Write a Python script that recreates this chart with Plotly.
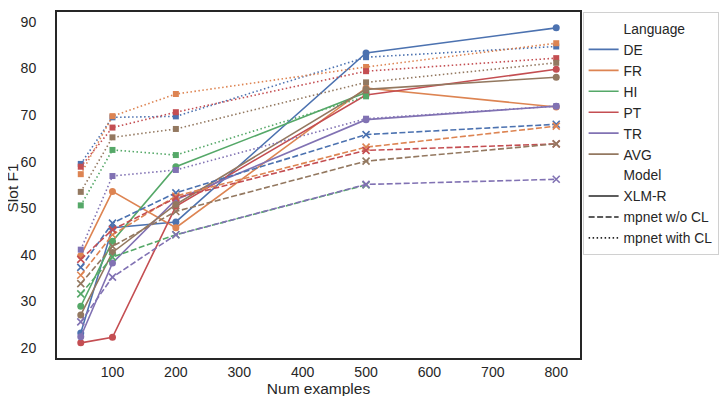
import plotly.graph_objects as go

num_examples = [50, 100, 200, 500, 800]
languages = ["DE", "FR", "HI", "PT", "TR", "AVG"]
models = ["XLM-R", "mpnet w/o CL", "mpnet with CL"]

# XLM-R
de_xlmr = [23.2, 45.8, 47.05, 83.3, 88.7]
fr_xlmr = [39.8, 53.6, 45.8, 75.8, 71.7]
hi_xlmr = [28.95, 42.9, 58.9, 74.8, None]
pt_xlmr = [21.1, 22.3, 50.4, 74.3, 79.8]
tr_xlmr = [22.4, 38.25, 51.8, 69.0, 71.9]
avg_xlmr = [27.1, 40.5, 50.8, 75.5, 78.1]

# mpnet w/o CL
de_nocl = [37.3, 46.8, 53.3, 65.8, 68.0]
fr_nocl = [35.6, 44.3, 52.6, 63.1, 67.6]
hi_nocl = [31.6, 39.5, 44.3, 55.0, None]
pt_nocl = [39.0, 45.4, 52.2, 62.4, 63.8]
tr_nocl = [25.6, 35.2, 44.3, 55.1, 56.2]
avg_nocl = [33.8, 41.8, 49.3, 60.1, 63.8]

# mpnet with CL
de_cl = [59.5, 69.5, 69.7, 82.4, 84.7]
fr_cl = [57.3, 69.75, 74.5, 80.3, 85.4]
hi_cl = [50.6, 62.5, 61.4, 74.0, None]
pt_cl = [58.9, 67.3, 70.6, 79.4, 82.2]
tr_cl = [41.1, 56.9, 58.2, 69.2, 71.9]
avg_cl = [53.5, 65.2, 67.0, 77.0, 81.2]

series = {
    "XLM-R": [de_xlmr, fr_xlmr, hi_xlmr, pt_xlmr, tr_xlmr, avg_xlmr],
    "mpnet w/o CL": [de_nocl, fr_nocl, hi_nocl, pt_nocl, tr_nocl, avg_nocl],
    "mpnet with CL": [de_cl, fr_cl, hi_cl, pt_cl, tr_cl, avg_cl],
}

colors = ["#4C72B0", "#DD8452", "#55A868", "#C44E52", "#8172B3", "#937860"]
dashes = {"XLM-R": "solid", "mpnet w/o CL": "6px,2.5px", "mpnet with CL": "1.5px,2.5px"}
symbols = {"XLM-R": "circle", "mpnet w/o CL": "x-thin", "mpnet with CL": "square"}
sizes = {"XLM-R": 7, "mpnet w/o CL": 7, "mpnet with CL": 6}

fig = go.Figure()

for m in models:
    for lang, col, vals in zip(languages, colors, series[m]):
        xs = [x for x, v in zip(num_examples, vals) if v is not None]
        ys = [v for v in vals if v is not None]
        marker = dict(symbol=symbols[m], size=sizes[m], color=col)
        if m == "mpnet w/o CL":
            marker["line"] = dict(width=1.6, color=col)
        else:
            marker["line"] = dict(width=0)
        fig.add_trace(go.Scatter(
            x=xs, y=ys, mode="lines+markers",
            line=dict(color=col, width=1.6, dash=dashes[m]),
            marker=marker, showlegend=False, name=f"{lang} {m}",
        ))

# legend entries
legend_items = [("Language", "rgba(0,0,0,0)", "solid")]
legend_items += [(lang, col, "solid") for lang, col in zip(languages, colors)]
legend_items += [("Model", "rgba(0,0,0,0)", "solid")]
legend_items += [(m, "#262626", dashes[m]) for m in models]

for i, (name, col, dash) in enumerate(legend_items):
    fig.add_trace(go.Scatter(x=[None], y=[None], mode="lines", name=name,
                             legendgroup=f"g{i:02d}",
                             line=dict(color=col, width=1.6, dash=dash),
                             showlegend=True))

font_family = "Liberation Sans, Arial, sans-serif"
fig.update_layout(
    width=727, height=396,
    margin=dict(l=49, r=155, t=4, b=46),
    paper_bgcolor="white", plot_bgcolor="white",
    font=dict(family=font_family, size=14, color="#262626"),
    legend=dict(x=1.005, y=1.0, xanchor="left", yanchor="top",
                bordercolor="#d0d0d0", borderwidth=1, bgcolor="white",
                font=dict(size=13.8, color="#262626"), traceorder="grouped",
                tracegroupgap=0, itemwidth=30),
    xaxis=dict(range=[12.5, 837.5], tickvals=[100, 200, 300, 400, 500, 600, 700, 800],
               showgrid=False, zeroline=False, showline=True, mirror=True,
               linecolor="#262626", linewidth=1.8, automargin=False,
               ticks="", tickfont=dict(size=14.1),
               title=dict(text="Num examples", font=dict(size=15.5), standoff=0)),
    yaxis=dict(range=[17.85, 92.1], tickvals=[20, 30, 40, 50, 60, 70, 80, 90],
               showgrid=False, zeroline=False, showline=True, mirror=True,
               linecolor="#262626", linewidth=1.8, automargin=False,
               ticks="outside", ticklen=16, tickcolor="rgba(0,0,0,0)",
               tickfont=dict(size=14.1)),
    annotations=[dict(text="Slot F1", xref="paper", yref="paper",
                      x=-0.086, y=0.49, xanchor="center", yanchor="middle",
                      textangle=-90, showarrow=False,
                      font=dict(size=15.5, color="#262626"))],
)

fig.write_html("out.html")
